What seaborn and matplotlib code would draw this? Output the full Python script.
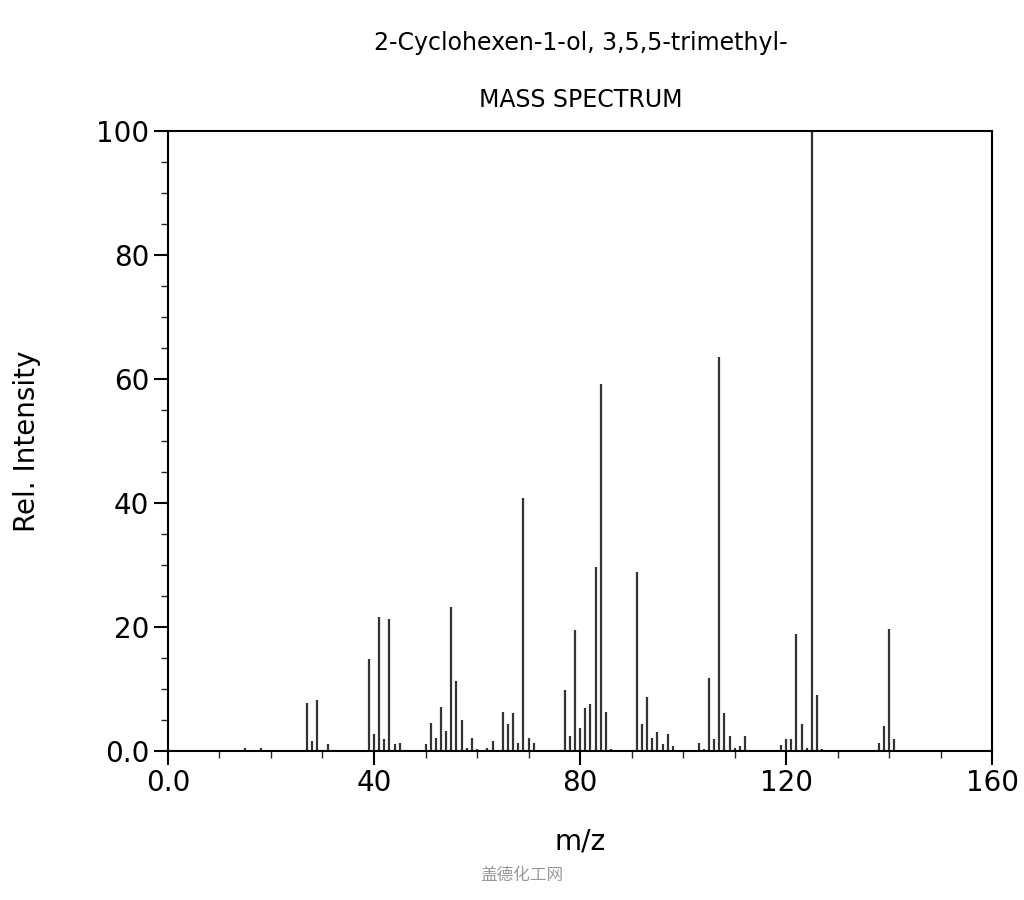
import matplotlib
matplotlib.use("Agg")
import matplotlib.pyplot as plt
import seaborn as sns
import pandas as pd
from matplotlib.ticker import MultipleLocator

mz = [15, 18, 27, 28, 29, 31, 39, 40, 41, 42, 43, 44, 45,
      50, 51, 52, 53, 54, 55, 56, 57, 58, 59, 60, 62, 63, 65, 66, 67, 68, 69, 70, 71,
      77, 78, 79, 80, 81, 82, 83, 84, 85, 86,
      91, 92, 93, 94, 95, 96, 97, 98,
      103, 104, 105, 106, 107, 108, 109, 110, 111, 112,
      119, 120, 121, 122, 123, 124, 125, 126, 127,
      138, 139, 140, 141]
intensity = [0.5, 0.5, 7.7, 1.5, 8.1, 1.0, 14.8, 2.7, 21.5, 1.8, 21.2, 1.0, 1.2,
             1.0, 4.5, 2.0, 7.0, 3.2, 23.2, 11.2, 5.0, 0.5, 2.0, 0.3, 0.5, 1.5, 6.3, 4.3, 6.0, 1.3, 40.8, 2.1, 1.3,
             9.8, 2.3, 19.4, 3.7, 6.8, 7.5, 29.6, 59.2, 6.3, 0.3,
             28.8, 4.3, 8.6, 2.1, 3.0, 1.0, 2.7, 0.7,
             1.2, 0.3, 11.7, 1.8, 63.5, 6.0, 2.3, 0.5, 0.8, 2.3,
             0.9, 1.8, 1.8, 18.8, 4.3, 0.4, 100.0, 9.0, 0.3,
             1.3, 4.0, 19.6, 1.8]
df = pd.DataFrame({"mz": mz, "intensity": intensity})

sns.set_style("white")
plt.rcParams['font.family'] = ['DejaVu Sans', 'Noto Sans CJK SC']
plt.rcParams['text.color'] = 'black'

fig = plt.figure(figsize=(10.24, 9), dpi=100)
ax = fig.add_axes([0.164, 0.166, 0.805, 0.688])
ax.vlines(df["mz"], 0, df["intensity"], color="#333333", linewidth=1.6)
ax.set_xlim(0, 160)
ax.set_ylim(0, 100)
ax.xaxis.set_minor_locator(MultipleLocator(10))
ax.yaxis.set_minor_locator(MultipleLocator(5))
ax.set_xticks([0, 40, 80, 120, 160], ["0.0", "40", "80", "120", "160"])
ax.set_yticks([0, 20, 40, 60, 80, 100], ["0.0", "20", "40", "60", "80", "100"])
ax.tick_params(which="major", length=10, width=1.5, labelsize=20, direction="out",
               bottom=True, left=True, colors="black")
ax.tick_params(which="minor", length=5, width=1, direction="out", bottom=True, left=True)
for s in ax.spines.values():
    s.set_linewidth(1.5)
    s.set_color("black")
ax.set_xlabel("m/z", fontsize=20, labelpad=22, color="black")
ax.set_ylabel("Rel. Intensity", fontsize=20, labelpad=40, color="black")
fig.text(0.567, 0.952, "2-Cyclohexen-1-ol, 3,5,5-trimethyl-", ha="center", va="center", fontsize=17)
fig.text(0.567, 0.889, "MASS SPECTRUM", ha="center", va="center", fontsize=17)
fig.text(0.51, 0.028, "盖德化工网", ha="center", va="center", fontsize=12, color="#999999",
         family=['Noto Sans CJK SC', 'DejaVu Sans'])
fig.savefig("out.png", dpi=100)
